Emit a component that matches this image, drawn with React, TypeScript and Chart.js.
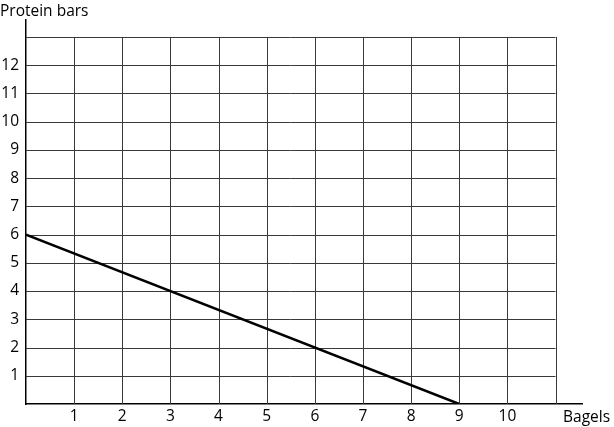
import React, { useEffect, useRef } from "react";
import { Chart, registerables } from "chart.js";

Chart.register(...registerables);

const bagels = [0, 9];
const proteinBars = [6, 0];
const xGridValues = [1, 2, 3, 4, 5, 6, 7, 8, 9, 10, 11];
const yGridValues = [1, 2, 3, 4, 5, 6, 7, 8, 9, 10, 11, 12, 13];
const xTickLabels = [1, 2, 3, 4, 5, 6, 7, 8, 9, 10];
const yTickLabels = [1, 2, 3, 4, 5, 6, 7, 8, 9, 10, 11, 12];
const xTitle = "Bagels";
const yTitle = "Protein bars";

const FONT = "'Open Sans'";
const FONT_SIZE = 15.5;

const gridPlugin = {
  id: "customGrid",
  beforeDatasetsDraw(chart: any) {
    const { ctx, scales } = chart;
    const x = scales.x;
    const y = scales.y;
    const xr = x.getPixelForValue(xGridValues[xGridValues.length - 1]);
    const yt = y.getPixelForValue(yGridValues[yGridValues.length - 1]);
    const x0 = x.getPixelForValue(0);
    const y0 = y.getPixelForValue(0);
    ctx.save();
    ctx.strokeStyle = "#3a3a3a";
    ctx.lineWidth = 1;
    for (const v of xGridValues) {
      const px = Math.round(x.getPixelForValue(v)) + 0.5;
      ctx.beginPath();
      ctx.moveTo(px, y0);
      ctx.lineTo(px, yt);
      ctx.stroke();
    }
    for (const v of yGridValues) {
      const py = Math.round(y.getPixelForValue(v)) + 0.5;
      ctx.beginPath();
      ctx.moveTo(x0, py);
      ctx.lineTo(xr, py);
      ctx.stroke();
    }
    ctx.restore();
  },
  afterDraw(chart: any) {
    const { ctx } = chart;
    ctx.save();
    ctx.fillStyle = "#000";
    ctx.font = `${FONT_SIZE}px ${FONT}`;
    ctx.textBaseline = "middle";
    ctx.textAlign = "left";
    ctx.fillText(yTitle, 0, 12);
    ctx.fillText(xTitle, 563, 418);
    ctx.restore();
  },
};

export default function App() {
  const ref = useRef<HTMLCanvasElement | null>(null);
  useEffect(() => {
    document.body.style.margin = "0";
    const canvas = ref.current;
    if (!canvas) return;
    const chart = new Chart(canvas, {
      type: "scatter",
      data: {
        datasets: [
          {
            data: bagels.map((b, i) => ({ x: b, y: proteinBars[i] })),
            showLine: true,
            borderColor: "#000",
            borderWidth: 2.5,
            pointRadius: 0,
            fill: false,
          },
        ],
      },
      options: {
        animation: false,
        responsive: false,
        maintainAspectRatio: false,
        layout: { padding: { left: 0, top: 20, right: 32, bottom: 0 } },
        plugins: { legend: { display: false }, tooltip: { enabled: false } },
        scales: {
          x: {
            type: "linear",
            min: 0,
            max: 11.55,
            grid: { display: false, drawTicks: false },
            border: { display: true, color: "#000", width: 1.5 },
            afterFit: (s: any) => {
              s.height = 23;
            },
            afterBuildTicks: (s: any) => {
              s.ticks = xTickLabels.map((v) => ({ value: v }));
            },
            ticks: {
              padding: 3,
              color: "#000",
              font: { family: FONT, size: FONT_SIZE },
              maxRotation: 0,
              autoSkip: false,
              callback: (v: any) => String(v),
            },
          },
          y: {
            type: "linear",
            min: 0,
            max: 13.6,
            grid: { display: false, drawTicks: false },
            border: { display: true, color: "#000", width: 1.5 },
            afterFit: (s: any) => {
              s.width = 26;
            },
            afterBuildTicks: (s: any) => {
              s.ticks = yTickLabels.map((v) => ({ value: v }));
            },
            ticks: {
              padding: 7,
              color: "#000",
              font: { family: FONT, size: FONT_SIZE },
              autoSkip: false,
              callback: (v: any) => String(v),
            },
          },
        },
      },
      plugins: [gridPlugin],
    });
    return () => chart.destroy();
  }, []);
  return <canvas ref={ref} width={614} height={427} style={{ display: "block" }} />;
}
